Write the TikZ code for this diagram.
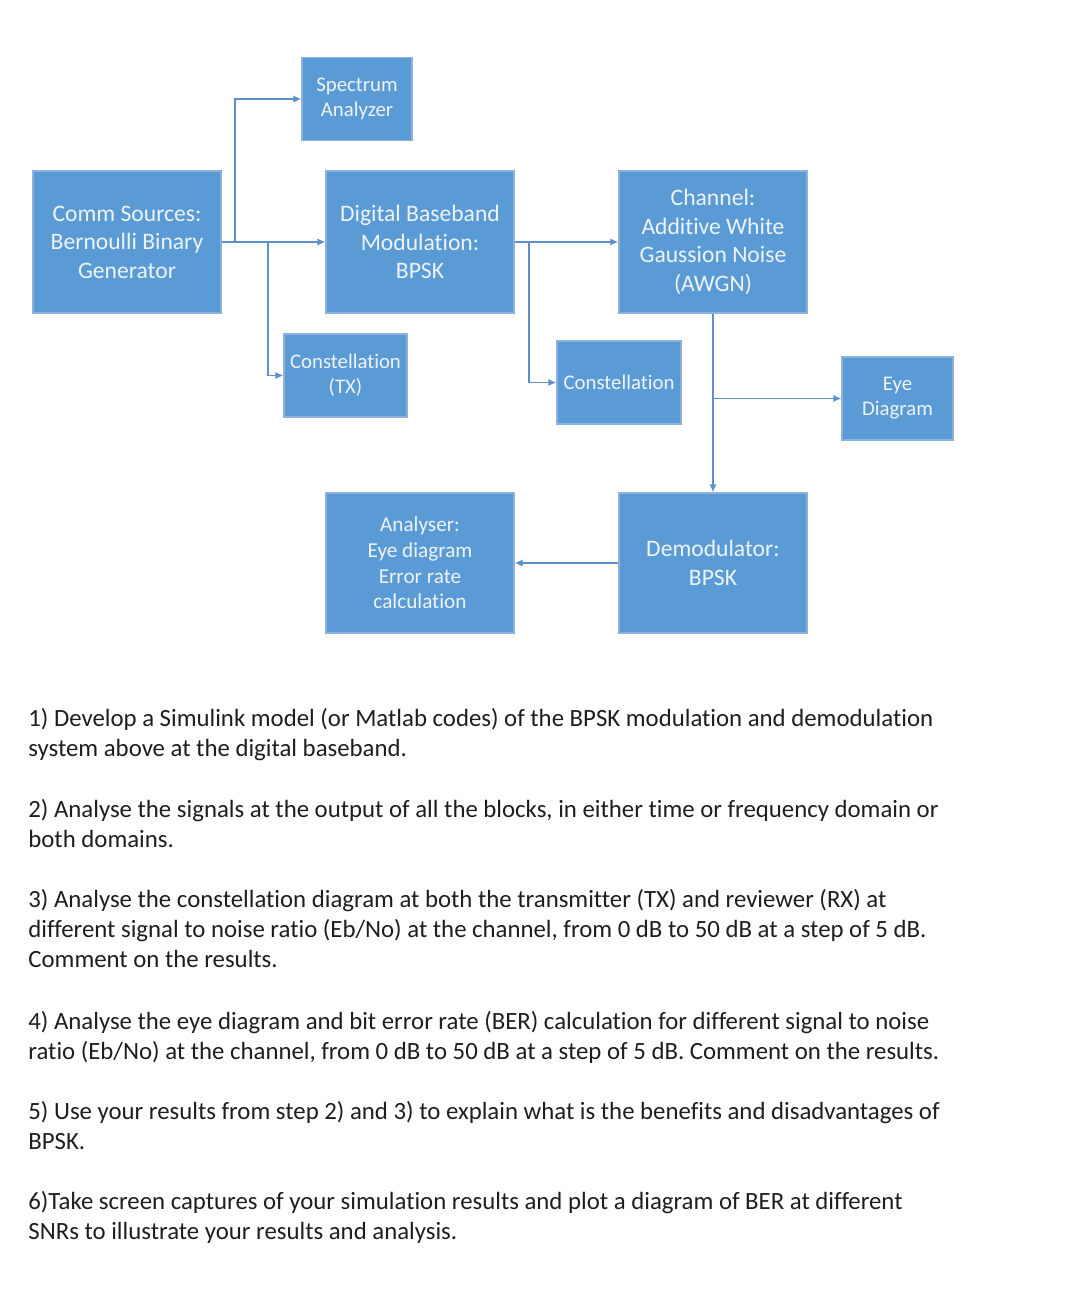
\documentclass[tikz,border=0pt]{standalone}
\usepackage{fontspec}
\setmainfont[Ligatures={NoCommon}]{Carlito}
\usetikzlibrary{arrows.meta}

\definecolor{boxblue}{HTML}{5B9BD5}
\definecolor{boxedge}{HTML}{8DB1DA}
\definecolor{boxtext}{HTML}{EEF3FA}
\definecolor{wire}{HTML}{5E90CC}
\definecolor{bodytext}{HTML}{1E1E1E}

\tikzset{
  block/.style={rectangle, fill=boxblue, draw=boxedge, line width=0.6pt,
    text=boxtext, align=center, inner sep=0pt,
    font=\fontsize{11.8pt}{14.25pt}\selectfont,
    minimum width=94pt, minimum height=71pt},
  smallblock/.style={block, font=\fontsize{10.4pt}{12.5pt}\selectfont,
    minimum width=#1, minimum height=41.5pt},
  wirearrow/.style={draw=wire, line width=0.75pt,
    -{Latex[length=4pt,width=3.6pt]}},
  task/.style={anchor=north west, align=left, inner sep=0pt, text=bodytext,
    font=\fontsize{12.4pt}{15pt}\selectfont}
}

\begin{document}
\begin{tikzpicture}[x=0.5pt,y=-0.5pt]
\useasboundingbox[fill=white] (0,0) rectangle (1080,1292);

% blocks
\node[smallblock=55pt] (spec) at (357,99) {Spectrum\\Analyzer};
\node[block] (src) at (127,242) {Comm Sources:\\Bernoulli Binary\\Generator};
\node[block] (mod) at (420,242) {Digital Baseband\\Modulation:\\BPSK};
\node[block] (chan) at (713,242) {Channel:\\Additive White\\Gaussion Noise\\(AWGN)};
\node[smallblock=61.5pt] (contx) at (345.5,375.5) {Constellation\\(TX)};
\node[smallblock=62pt] (conrx) at (619,382.5) {Constellation};
\node[smallblock=55.5pt] (eye) at (897.5,398.5) {Eye\\Diagram};
\node[block, minimum height=70pt, font=\fontsize{10.6pt}{12.8pt}\selectfont]
  (ana) at (420,563) {Analyser:\\Eye diagram\\Error rate\\calculation};
\node[block, minimum height=70pt] (demod) at (713,563) {Demodulator:\\BPSK};

% branch points
\coordinate (b1) at (235,242);
\coordinate (b2) at (268,242);
\coordinate (b3) at (529,242);
\coordinate (b4) at (713,398.5);

% connectors
\draw[wirearrow] (src.east) -- (mod.west);
\draw[wirearrow] (b1) |- (spec.west);
\draw[wirearrow] (b2) |- (contx.west);
\draw[wirearrow] (mod.east) -- (chan.west);
\draw[wirearrow] (b3) |- (conrx.west);
\draw[wirearrow] (chan.south) -- (demod.north);
\draw[wirearrow] (b4) -- (eye.west);
\draw[wirearrow] (demod.west) -- (ana.east);

% tasks
\node[task] (t1) at (28,708) {1) Develop a Simulink model (or Matlab codes) of the BPSK modulation and demodulation\\system above at the digital baseband.};
\node[task] (t2) at (28,799) {2) Analyse the signals at the output of all the blocks, in either time or frequency domain or\\both domains.};
\node[task] (t3) at (28,889) {3) Analyse the constellation diagram at both the transmitter (TX) and reviewer (RX) at\\different signal to noise ratio (Eb/No) at the channel, from 0 dB to 50 dB at a step of 5 dB.\\Comment on the results.};
\node[task] (t4) at (28,1011) {4) Analyse the eye diagram and bit error rate (BER) calculation for different signal to noise\\ratio (Eb/No) at the channel, from 0 dB to 50 dB at a step of 5 dB. Comment on the results.};
\node[task] (t5) at (28,1101) {5) Use your results from step 2) and 3) to explain what is the benefits and disadvantages of\\BPSK.};
\node[task] (t6) at (28,1191) {6)Take screen captures of your simulation results and plot a diagram of BER at different\\SNRs to illustrate your results and analysis.};
\end{tikzpicture}
\end{document}
